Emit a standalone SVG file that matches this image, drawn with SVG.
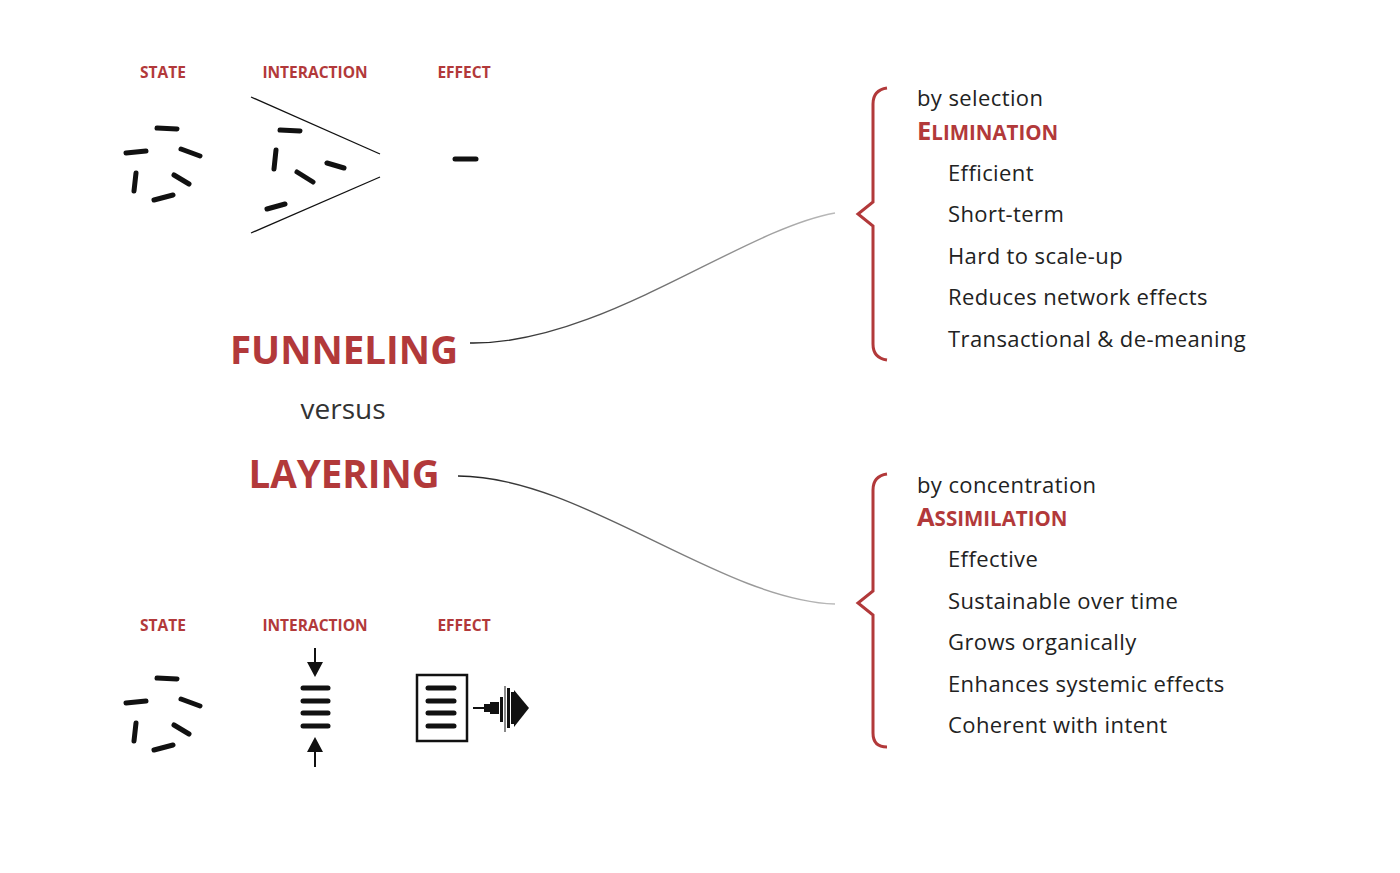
<svg xmlns="http://www.w3.org/2000/svg" width="1400" height="873" viewBox="0 0 1400 873">
<style>
.lbl{font-family:"Open Sans",Lato,sans-serif;font-weight:700;font-size:15.5px;fill:#b2393a;text-anchor:middle}
.big{font-family:"Open Sans",Lato,sans-serif;font-weight:700;font-size:38.5px;fill:#b2393a;text-anchor:middle}
.txt{font-family:"Open Sans",Lato,sans-serif;font-size:22px;letter-spacing:0.4px;fill:#222}
.cap{font-family:"Open Sans",Lato,sans-serif;font-weight:700;fill:#b2393a}
.stk{stroke:#111;stroke-width:5;stroke-linecap:round;fill:none}
.thin{stroke:#111;stroke-width:1.3;fill:none}
.brace{stroke:#b2393a;stroke-width:3;fill:none;stroke-linejoin:miter}
</style>
<defs>
<g id="sticks">
<line class="stk" x1="157" y1="128" x2="177" y2="129"/>
<line class="stk" x1="126" y1="153" x2="146" y2="151"/>
<line class="stk" x1="181" y1="149" x2="200" y2="156"/>
<line class="stk" x1="136" y1="173" x2="134" y2="191"/>
<line class="stk" x1="174" y1="175" x2="189" y2="184"/>
<line class="stk" x1="154" y1="200" x2="173" y2="195"/>
</g>
<linearGradient id="g1" x1="0" y1="0" x2="1" y2="0"><stop offset="0" stop-color="#222"/><stop offset="1" stop-color="#bbb"/></linearGradient>
</defs>
<rect width="1400" height="873" fill="#fff"/>
<g id="top-labels">
<text class="lbl" x="163" y="78">STATE</text>
<text class="lbl" x="315" y="78">INTERACTION</text>
<text class="lbl" x="464" y="78">EFFECT</text>
</g>
<g id="top-state"><use href="#sticks"/></g>
<g id="top-interaction">
<line class="thin" x1="251" y1="97" x2="380" y2="154"/>
<line class="thin" x1="380" y1="177" x2="251" y2="233"/>
<line class="stk" x1="280" y1="130" x2="300" y2="131"/>
<line class="stk" x1="276" y1="150" x2="274" y2="169"/>
<line class="stk" x1="327" y1="163" x2="344" y2="168"/>
<line class="stk" x1="297" y1="172" x2="313" y2="182"/>
<line class="stk" x1="267" y1="209" x2="285" y2="204"/>
</g>
<g id="top-effect"><line class="stk" x1="455" y1="159" x2="476" y2="159"/></g>
<g id="bottom-labels">
<text class="lbl" x="163" y="631">STATE</text>
<text class="lbl" x="315" y="631">INTERACTION</text>
<text class="lbl" x="464" y="631">EFFECT</text>
</g>
<g id="bottom-state"><use href="#sticks" transform="translate(0,550)"/></g>
<g id="bottom-interaction">
<line x1="315" y1="648" x2="315" y2="663" stroke="#111" stroke-width="2"/>
<polygon points="307,662 323,662 315,677" fill="#111"/>
<line class="stk" x1="303" y1="688" x2="328" y2="688"/>
<line class="stk" x1="303" y1="701" x2="328" y2="701"/>
<line class="stk" x1="303" y1="713" x2="328" y2="713"/>
<line class="stk" x1="303" y1="726" x2="328" y2="726"/>
<polygon points="307,752 323,752 315,737" fill="#111"/>
<line x1="315" y1="751" x2="315" y2="767" stroke="#111" stroke-width="2"/>
</g>
<g id="bottom-effect">
<rect x="417" y="675" width="50" height="66" fill="none" stroke="#111" stroke-width="2.5"/>
<line class="stk" x1="428" y1="688" x2="454" y2="688"/>
<line class="stk" x1="428" y1="701" x2="454" y2="701"/>
<line class="stk" x1="428" y1="713" x2="454" y2="713"/>
<line class="stk" x1="428" y1="726" x2="454" y2="726"/>
<line x1="473" y1="708" x2="484" y2="708" stroke="#111" stroke-width="2"/>
<rect x="484" y="704" width="6" height="8" fill="#111"/>
<rect x="490" y="702" width="9" height="12" fill="#111"/>
<rect x="500" y="697" width="3" height="25" fill="#111"/>
<rect x="504" y="686" width="2" height="46" fill="#888"/>
<rect x="507" y="688" width="3" height="40" fill="#111"/>
<rect x="511" y="692" width="3" height="32" fill="#111"/>
<polygon points="514,690 529,708 514,727" fill="#111"/>
</g>
<g id="center">
<text class="big" x="344" y="364">FUNNELING</text>
<text x="343" y="419" font-family="'Open Sans',Lato,sans-serif" font-size="28" fill="#333" text-anchor="middle">versus</text>
<text class="big" x="344" y="488">LAYERING</text>
</g>
<g id="connectors">
<path d="M470,343 C600,345 740,230 835,213" stroke="url(#g1)" stroke-width="1.4" fill="none"/>
<path d="M458,476 C580,476 720,600 835,604" stroke="url(#g1)" stroke-width="1.4" fill="none"/>
</g>
<g id="elimination">
<path class="brace" d="M887,88 Q873,90 873,104 L873,202 L858,214 L873,226 L873,344 Q873,358 887,360"/>
<text class="txt" x="917" y="106">by selection</text>
<text class="cap" x="917" y="140"><tspan font-size="25.5">E</tspan><tspan font-size="20.5">LIMINATION</tspan></text>
<text class="txt" x="948" y="181">Efficient</text>
<text class="txt" x="948" y="222">Short-term</text>
<text class="txt" x="948" y="264">Hard to scale-up</text>
<text class="txt" x="948" y="305">Reduces network effects</text>
<text class="txt" x="948" y="347">Transactional &amp; de-meaning</text>
</g>
<g id="assimilation">
<path class="brace" d="M887,474 Q873,476 873,490 L873,591 L858,603 L873,615 L873,733 Q873,747 887,747"/>
<text class="txt" x="917" y="493">by concentration</text>
<text class="cap" x="917" y="526"><tspan font-size="25.5">A</tspan><tspan font-size="20.5">SSIMILATION</tspan></text>
<text class="txt" x="948" y="567">Effective</text>
<text class="txt" x="948" y="609">Sustainable over time</text>
<text class="txt" x="948" y="650">Grows organically</text>
<text class="txt" x="948" y="692">Enhances systemic effects</text>
<text class="txt" x="948" y="733">Coherent with intent</text>
</g>
</svg>
